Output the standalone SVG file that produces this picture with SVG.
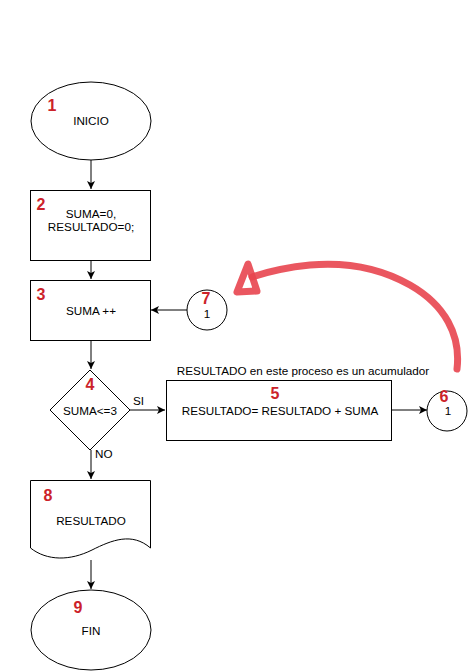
<svg xmlns="http://www.w3.org/2000/svg" width="468" height="671" viewBox="0 0 468 671">
<defs>
<marker id="ah" markerWidth="10" markerHeight="10" refX="8" refY="4" orient="auto" markerUnits="userSpaceOnUse">
<path d="M0,0 L8,4 L0,8 L2,4 Z" fill="#000"/>
</marker>
<style>
.s{fill:#fff;stroke:#000;stroke-width:1}
.t{font-family:"Liberation Sans",Arial,sans-serif;font-size:11.7px;fill:#000;text-anchor:middle}
.n{font-family:"Liberation Sans",Arial,sans-serif;font-size:16px;font-weight:bold;fill:#cc2229;text-anchor:middle}
.c{fill:none;stroke:#000;stroke-width:1;marker-end:url(#ah)}
</style>
</defs>
<rect width="468" height="671" fill="#fff"/>
<g id="connectors">
<line class="c" x1="91" y1="160" x2="91" y2="189"/>
<line class="c" x1="91" y1="260" x2="91" y2="279"/>
<line class="c" x1="187" y1="310" x2="151" y2="310"/>
<line class="c" x1="91" y1="340" x2="91" y2="369"/>
<line class="c" x1="130" y1="410" x2="165" y2="410"/>
<line class="c" x1="392" y1="410" x2="427" y2="410"/>
<line class="c" x1="91" y1="450" x2="91" y2="479"/>
<line class="c" x1="91" y1="560" x2="91" y2="589"/>
<text class="t" x="133" y="405" style="text-anchor:start">SI</text>
<text class="t" x="95" y="458" style="text-anchor:start">NO</text>
</g>
<g id="n1">
<ellipse class="s" cx="91" cy="121" rx="60" ry="39"/>
<text class="n" x="52" y="111">1</text>
<text class="t" x="91" y="125">INICIO</text>
</g>
<g id="n2">
<rect class="s" x="30.5" y="190.5" width="120" height="70"/>
<text class="n" x="41" y="210">2</text>
<text class="t" x="91" y="218">SUMA=0,</text>
<text class="t" x="91" y="231">RESULTADO=0;</text>
</g>
<g id="n3">
<rect class="s" x="30.5" y="280.5" width="120" height="60"/>
<text class="n" x="41" y="300">3</text>
<text class="t" x="91" y="315">SUMA ++</text>
</g>
<g id="n7">
<circle class="s" cx="207" cy="310" r="20"/>
<text class="n" x="206" y="304">7</text>
<text class="t" x="207" y="318">1</text>
</g>
<g id="n4">
<path class="s" d="M90,370 L130,410 L90,450 L50,410 Z"/>
<text class="n" x="90" y="390">4</text>
<text class="t" x="90" y="415">SUMA&lt;=3</text>
</g>
<g id="n5">
<text class="t" x="303" y="375">RESULTADO en este proceso es un acumulador</text>
<rect class="s" x="166.5" y="380.5" width="225" height="60"/>
<text class="n" x="275" y="399">5</text>
<text class="t" x="280" y="415">RESULTADO= RESULTADO + SUMA</text>
</g>
<g id="n6">
<circle class="s" cx="447" cy="411" r="20"/>
<text class="n" x="444" y="402">6</text>
<text class="t" x="448" y="415">1</text>
</g>
<g id="n8">
<path class="s" d="M30.5,480.5 H150.5 V548 C132,532 112,540 92,550 C70,561 47,561 30.5,548 Z"/>
<text class="n" x="48" y="501">8</text>
<text class="t" x="91" y="525">RESULTADO</text>
</g>
<g id="n9">
<ellipse class="s" cx="91" cy="630" rx="60" ry="40"/>
<text class="n" x="78" y="613">9</text>
<text class="t" x="91" y="635">FIN</text>
</g>
<g id="annotation" fill="none" stroke="#e8454f" stroke-opacity="0.9" stroke-width="7" stroke-linecap="round" stroke-linejoin="round">
<path d="M457,369 C461,335 445,305 410,285 C380,268 345,262 310,265 C290,267 270,271 252,277"/>
<path d="M248,264 L237,292 L257,291 Z"/>
</g>
</svg>
